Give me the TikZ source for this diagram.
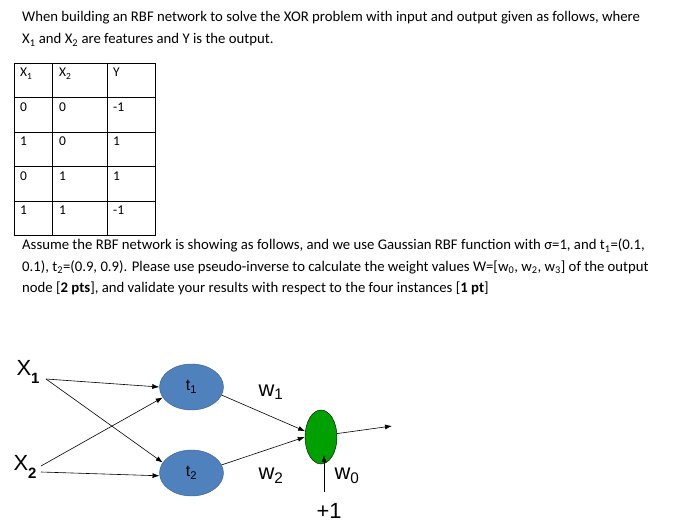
\documentclass[tikz,border=0pt]{standalone}
\usepackage{fontspec}
\setmainfont{Carlito}
\newfontfamily\arialfont{Liberation Sans}
\usetikzlibrary{shapes.geometric,arrows.meta}
\definecolor{rbfblue}{RGB}{79,129,189}
\definecolor{rbfedge}{RGB}{56,93,138}
\definecolor{outgreen}{RGB}{0,160,0}
\tikzset{
  txt/.style={anchor=base west,inner sep=0pt,font=\fontsize{14.8}{16}\selectfont},
  cell/.style={anchor=base west,inner sep=0pt,font=\fontsize{13.5}{15}\selectfont},
  lbl/.style={inner sep=0pt,font=\arialfont\fontsize{22}{24}\selectfont},
  arr/.style={-{Latex[length=7bp,width=5bp]},line width=0.6bp},
}
\begin{document}
\begin{tikzpicture}[x=1bp,y=-1bp]
\useasboundingbox (0,0) rectangle (677,531);
% question text
\node[txt] at (22,22) {When building an RBF network to solve the XOR problem with input and output given as follows, where};
\node[txt] at (22,44) {X\textsubscript{1} and X\textsubscript{2} are features and Y is the output.};
% table
\draw[line width=0.8bp] (14,63) rectangle (155,235);
\foreach \y in {97,132,166,201} \draw[line width=0.8bp] (14,\y) -- (155,\y);
\foreach \x in {52,107} \draw[line width=0.8bp] (\x,63) -- (\x,235);
\node[cell] at (20,77) {X\textsubscript{1}};
\node[cell] at (59,77) {X\textsubscript{2}};
\node[cell] at (113,77) {Y};
\foreach \a/\b/\c [count=\i] in {0/0/-1,1/0/1,0/1/1,1/1/-1}{
  \node[cell] at (20,77+34.5*\i) {\a};
  \node[cell] at (59,77+34.5*\i) {\b};
  \node[cell] at (113,77+34.5*\i) {\c};
}
\node[txt] at (22,250) {Assume the RBF network is showing as follows, and we use Gaussian RBF function with σ=1, and t\textsubscript{1}=(0.1,};
\node[txt] at (22,271) {0.1), t\textsubscript{2}=(0.9, 0.9). Please use pseudo-inverse to calculate the weight values W=[w\textsubscript{0}, w\textsubscript{2}, w\textsubscript{3}] of the output};
\node[txt] at (22,292) {node [\textbf{2 pts}], and validate your results with respect to the four instances [\textbf{1 pt}]};
% network
\node[lbl] (x1) at (28,372) {X\raisebox{-0.35em}{\textbf{\fontsize{15}{17}\selectfont 1}}};
\node[lbl] (x2) at (25,467) {X\raisebox{-0.35em}{\textbf{\fontsize{15}{17}\selectfont 2}}};
\node[ellipse,draw=rbfedge,fill=rbfblue,minimum width=64bp,minimum height=46bp,inner sep=0pt,
      font=\arialfont\fontsize{16}{18}\selectfont] (t1) at (191.5,387) {t\textsubscript{1}};
\node[ellipse,draw=rbfedge,fill=rbfblue,minimum width=64bp,minimum height=46bp,inner sep=0pt,
      font=\arialfont\fontsize{16}{18}\selectfont] (t2) at (191.5,473) {t\textsubscript{2}};
\node[ellipse,draw=black,fill=outgreen,minimum width=32bp,minimum height=54bp,inner sep=0pt] (out) at (321,437) {};
\coordinate (x1a) at (46,379);
\coordinate (x2a) at (41,466);
\coordinate (x2b) at (41,472);
\coordinate (y) at (392,426);
\coordinate (bias) at (324,492);
\draw[arr] (x1a) -- (t1.west);
\draw[arr] (x1a) -- (t2.160);
\draw[arr] (x2a) -- (t1.200);
\draw[arr] (x2b) -- (t2.185);
\draw[arr] (t1.-15) -- (out.160);
\draw[arr] (t2.15) -- (out.180);
\draw[arr] (out.12) -- (y);
\draw[arr] (bias) -- (324,455);
\node[lbl] (w1) at (271,392) {w\textsubscript{1}};
\node[lbl] (w2) at (271,476) {w\textsubscript{2}};
\node[lbl] (w0) at (347,476) {w\textsubscript{0}};
\node[lbl] (one) at (329,511) {+1};
\end{tikzpicture}
\end{document}
